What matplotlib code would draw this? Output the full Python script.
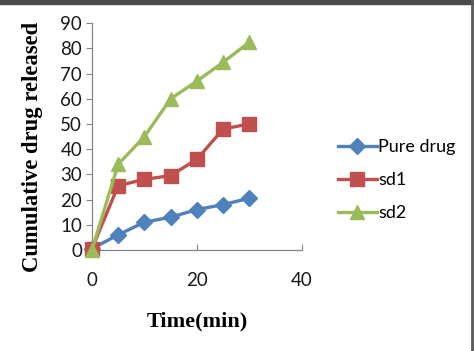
import matplotlib
matplotlib.use('Agg')
import matplotlib.pyplot as plt
from matplotlib.lines import Line2D
from matplotlib.patches import Rectangle

# data
time = [0, 5, 10, 15, 20, 25, 30]
pure_drug = [0.5, 6, 11, 13, 16, 18, 20.5]
sd1 = [0.5, 25.5, 28, 29.5, 36, 48, 50]
sd2 = [0, 34, 45, 60, 67, 74.5, 82.5]
labels = ['Pure drug', 'sd1', 'sd2']

tick_font = 'Lato'
label_font = 'Liberation Serif'

fig = plt.figure(figsize=(4.74, 3.51), dpi=100)
ax = fig.add_axes([0.194, 0.288, 0.443, 0.646])

ax.plot(time, pure_drug, color='#4F81BD', lw=2.4, marker='D', ms=8, label=labels[0])
ax.plot(time, sd1, color='#C0504D', lw=2.4, marker='s', ms=9.5, label=labels[1])
ax.plot(time, sd2, color='#9BBB59', lw=2.4, marker='^', ms=9.5, label=labels[2])

ax.set_xlim(0, 40)
ax.set_ylim(0, 90)
ax.set_xticks([0, 20, 40])
ax.set_yticks(range(0, 91, 10))
for s in ['top', 'right']:
    ax.spines[s].set_visible(False)
for s in ['left', 'bottom']:
    ax.spines[s].set_color('#868686')
    ax.spines[s].set_linewidth(0.9)
ax.tick_params(axis='y', direction='out', length=4, color='#868686', pad=3)
ax.tick_params(axis='x', direction='in', length=4, color='#868686', pad=16)
for t in ax.get_xticklabels() + ax.get_yticklabels():
    t.set_fontfamily(tick_font)
    t.set_fontsize(13.5)
    t.set_color('#1a1a1a')
for sp in ax.spines.values():
    sp.set_zorder(0)
for l in ax.lines:
    l.set_clip_on(False)

ax.set_xlabel('Time(min)', family=label_font, fontweight='bold', fontsize=16, labelpad=16)
ax.set_ylabel('Cumulative drug released', family=label_font, fontweight='bold', fontsize=16.3, labelpad=11)
ax.yaxis.set_label_coords(-0.232, 0.455)

leg = ax.legend(loc='upper left', bbox_to_anchor=(0.697, 0.625), bbox_transform=fig.transFigure,
                frameon=False, prop={'family': tick_font, 'size': 13}, handlelength=2.2,
                labelspacing=0.95, handletextpad=0.05, borderaxespad=0)

# screenshot frame: dark top band and right edge
fig.add_artist(Rectangle((0, 0.99), 1, 0.01, transform=fig.transFigure, color='#4a4a4a'))
fig.add_artist(Line2D([0.9955, 0.9955], [0, 1], transform=fig.transFigure, color='#5a5a5a', lw=2))

fig.savefig('out.png', dpi=100)
